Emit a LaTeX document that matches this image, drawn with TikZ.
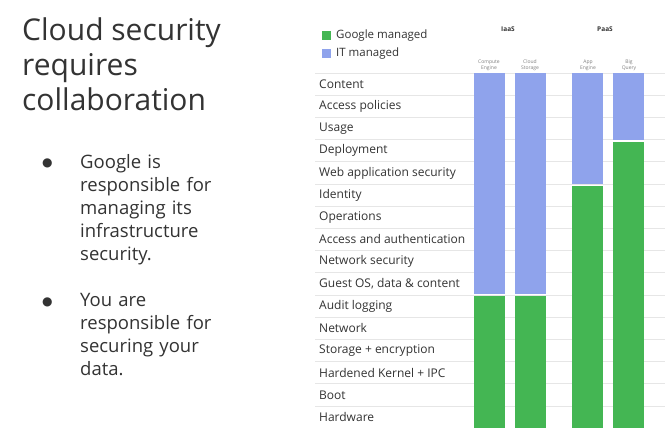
\documentclass[tikz,border=0pt]{standalone}
\usepackage{fontspec}
\setmainfont{Open Sans}
\newfontfamily\dejavu{DejaVu Sans}
\definecolor{gm}{HTML}{44B653}
\definecolor{itm}{HTML}{8FA3EC}
\definecolor{txt}{HTML}{333333}
\definecolor{sep}{HTML}{E6E6E6}
\begin{document}
\begin{tikzpicture}[x=1pt,y=-1pt,
  rowlab/.style={anchor=west,inner sep=0pt,font=\fontsize{12}{12}\selectfont,text=txt},
  head/.style={anchor=center,inner sep=0pt,font=\fontsize{5}{6}\selectfont,text=gray,align=center},
  grp/.style={anchor=center,inner sep=0pt,font=\fontsize{6.5}{7}\selectfont\bfseries,text=txt},
  bul/.style={anchor=north west,inner sep=0pt,text width=160pt,align=left,font=\fontsize{18.5}{23}\selectfont,text=txt},
  dot/.style={anchor=north west,inner sep=0pt,font=\dejavu\fontsize{12}{12}\selectfont,text=txt}]
\useasboundingbox (0,0) rectangle (665,438);
\fill[white] (0,0) rectangle (665,438);
\node[anchor=north west,inner sep=0pt,align=left,font=\fontsize{30}{35}\selectfont,text=txt] (title) at (22,18) {Cloud security\\requires\\collaboration};
\node[dot] (b1) at (42,159) {●};
\node[bul] (t1) at (80,154) {Google is\\responsible for\\managing its\\infrastructure\\security.};
\node[dot] (b2) at (42,298) {●};
\node[bul] (t2) at (80,293) {You are\\responsible for\\securing your\\data.};
% legend
\fill[gm] (322,31) rectangle (331,40);
\node[anchor=west,inner sep=0pt,font=\fontsize{11.5}{12}\selectfont,text=txt] (lg) at (336,36) {Google managed};
\fill[itm] (322,49) rectangle (331,58);
\node[anchor=west,inner sep=0pt,font=\fontsize{11.5}{12}\selectfont,text=txt] (li) at (336,54) {IT managed};
\node[grp] (iaas) at (508,29) {IaaS};
\node[grp] (paas) at (605,29) {PaaS};
\node[head] (h1) at (489,65) {Compute\\Engine};
\node[head] (h2) at (530,65) {Cloud\\Storage};
\node[head] (h3) at (588,65) {App\\Engine};
\node[head] (h4) at (629,65) {Big\\Query};
% rows
\foreach \i/\l in {0/Content,1/Access policies,2/Usage,3/Deployment,4/Web application security,5/Identity,6/Operations,7/Access and authentication,8/Network security,9/{Guest OS, data \& content},10/Audit logging,11/Network,12/Storage + encryption,13/Hardened Kernel + IPC,14/Boot,15/Hardware}{
  \draw[sep,line width=0.6pt] (315,{73+22.2*\i}) -- (665,{73+22.2*\i});
  \node[rowlab] (r\i) at (319,{84.1+22.2*\i}) {\l};
}
% bars
\fill[itm] (474,73) rectangle (505,294);
\fill[gm] (474,296.5) rectangle (505,428);
\fill[itm] (515,73) rectangle (546,294);
\fill[gm] (515,296.5) rectangle (546,428);
\fill[itm] (572,73) rectangle (603,184.5);
\fill[gm] (572,186.5) rectangle (603,428);
\fill[itm] (613,73) rectangle (644,140);
\fill[gm] (613,142) rectangle (644,428);
\end{tikzpicture}
\end{document}
